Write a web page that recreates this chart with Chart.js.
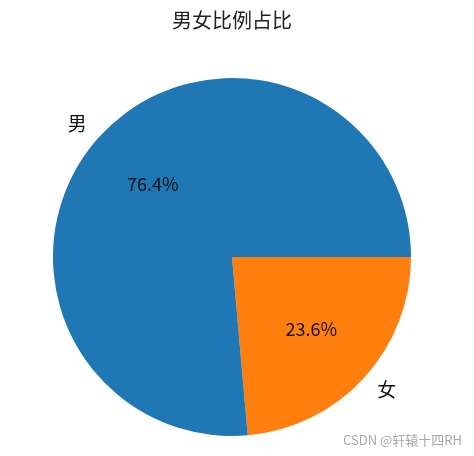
<!DOCTYPE html>
<html>
<head>
<meta charset="utf-8">
<script src="https://cdn.jsdelivr.net/npm/chart.js@4"></script>
<style>
  html, body { margin: 0; padding: 0; background: #fff; }
  #wrap { width: 474px; height: 456px; }
</style>
</head>
<body>
<div id="wrap"><canvas id="pie" width="474" height="456"></canvas></div>
<script>
// values (matplotlib order, counter-clockwise from 3 o'clock)
const categories = ['男', '女'];
const shares = [76.4, 23.6];
const sliceColors = ['#1f77b4', '#ff7f0e'];

const cjkFont = '"Noto Sans CJK SC", "Noto Sans", sans-serif';

// Chart.js goes clockwise, so reverse to get the same layout
const labels = categories.slice().reverse();
const values = shares.slice().reverse();
const colors = sliceColors.slice().reverse();

// slice names at 1.1r and percentages at 0.6r, like matplotlib autopct
const sliceText = {
  id: 'sliceText',
  afterDatasetsDraw(chart) {
    const ctx = chart.ctx;
    const total = values.reduce((a, b) => a + b, 0);
    chart.getDatasetMeta(0).data.forEach((arc, i) => {
      const { x, y, startAngle, endAngle, outerRadius } = arc.getProps(['x', 'y', 'startAngle', 'endAngle', 'outerRadius'], true);
      const mid = (startAngle + endAngle) / 2;
      const c = Math.cos(mid), s = Math.sin(mid);
      ctx.save();
      ctx.fillStyle = '#111';
      ctx.textBaseline = 'middle';

      ctx.font = '19px ' + cjkFont;
      ctx.textAlign = c > 0 ? 'left' : 'right';
      ctx.fillText(labels[i], x + 1.1 * outerRadius * c, y + 1.1 * outerRadius * s);

      ctx.font = '18px ' + cjkFont;
      ctx.textAlign = 'center';
      const pct = (values[i] / total * 100).toFixed(1) + '%';
      ctx.fillText(pct, x + 0.6 * outerRadius * c, y + 0.6 * outerRadius * s);
      ctx.restore();
    });
  }
};

// the CSDN watermark in the bottom right corner
const watermark = {
  id: 'watermark',
  afterDraw(chart) {
    const ctx = chart.ctx;
    ctx.save();
    ctx.font = '13px ' + cjkFont;
    ctx.fillStyle = '#a8a8a8';
    ctx.textAlign = 'right';
    ctx.textBaseline = 'middle';
    ctx.fillText('CSDN @轩辕十四RH', 462, 440);
    ctx.restore();
  }
};

new Chart(document.getElementById('pie'), {
  type: 'pie',
  data: {
    labels: labels,
    datasets: [{
      data: values,
      backgroundColor: colors,
      borderWidth: 0
    }]
  },
  options: {
    responsive: false,
    animation: false,
    devicePixelRatio: 1,
    rotation: 90,
    layout: { padding: { left: 53, right: 63, top: 0, bottom: 20 } },
    plugins: {
      legend: { display: false },
      tooltip: { enabled: false },
      title: {
        display: true,
        text: '男女比例占比',
        color: '#222',
        font: { family: cjkFont, size: 20, weight: 'normal', lineHeight: 1.2 },
        padding: { top: 8, bottom: 46 }
      }
    }
  },
  plugins: [sliceText, watermark]
});
</script>
</body>
</html>
